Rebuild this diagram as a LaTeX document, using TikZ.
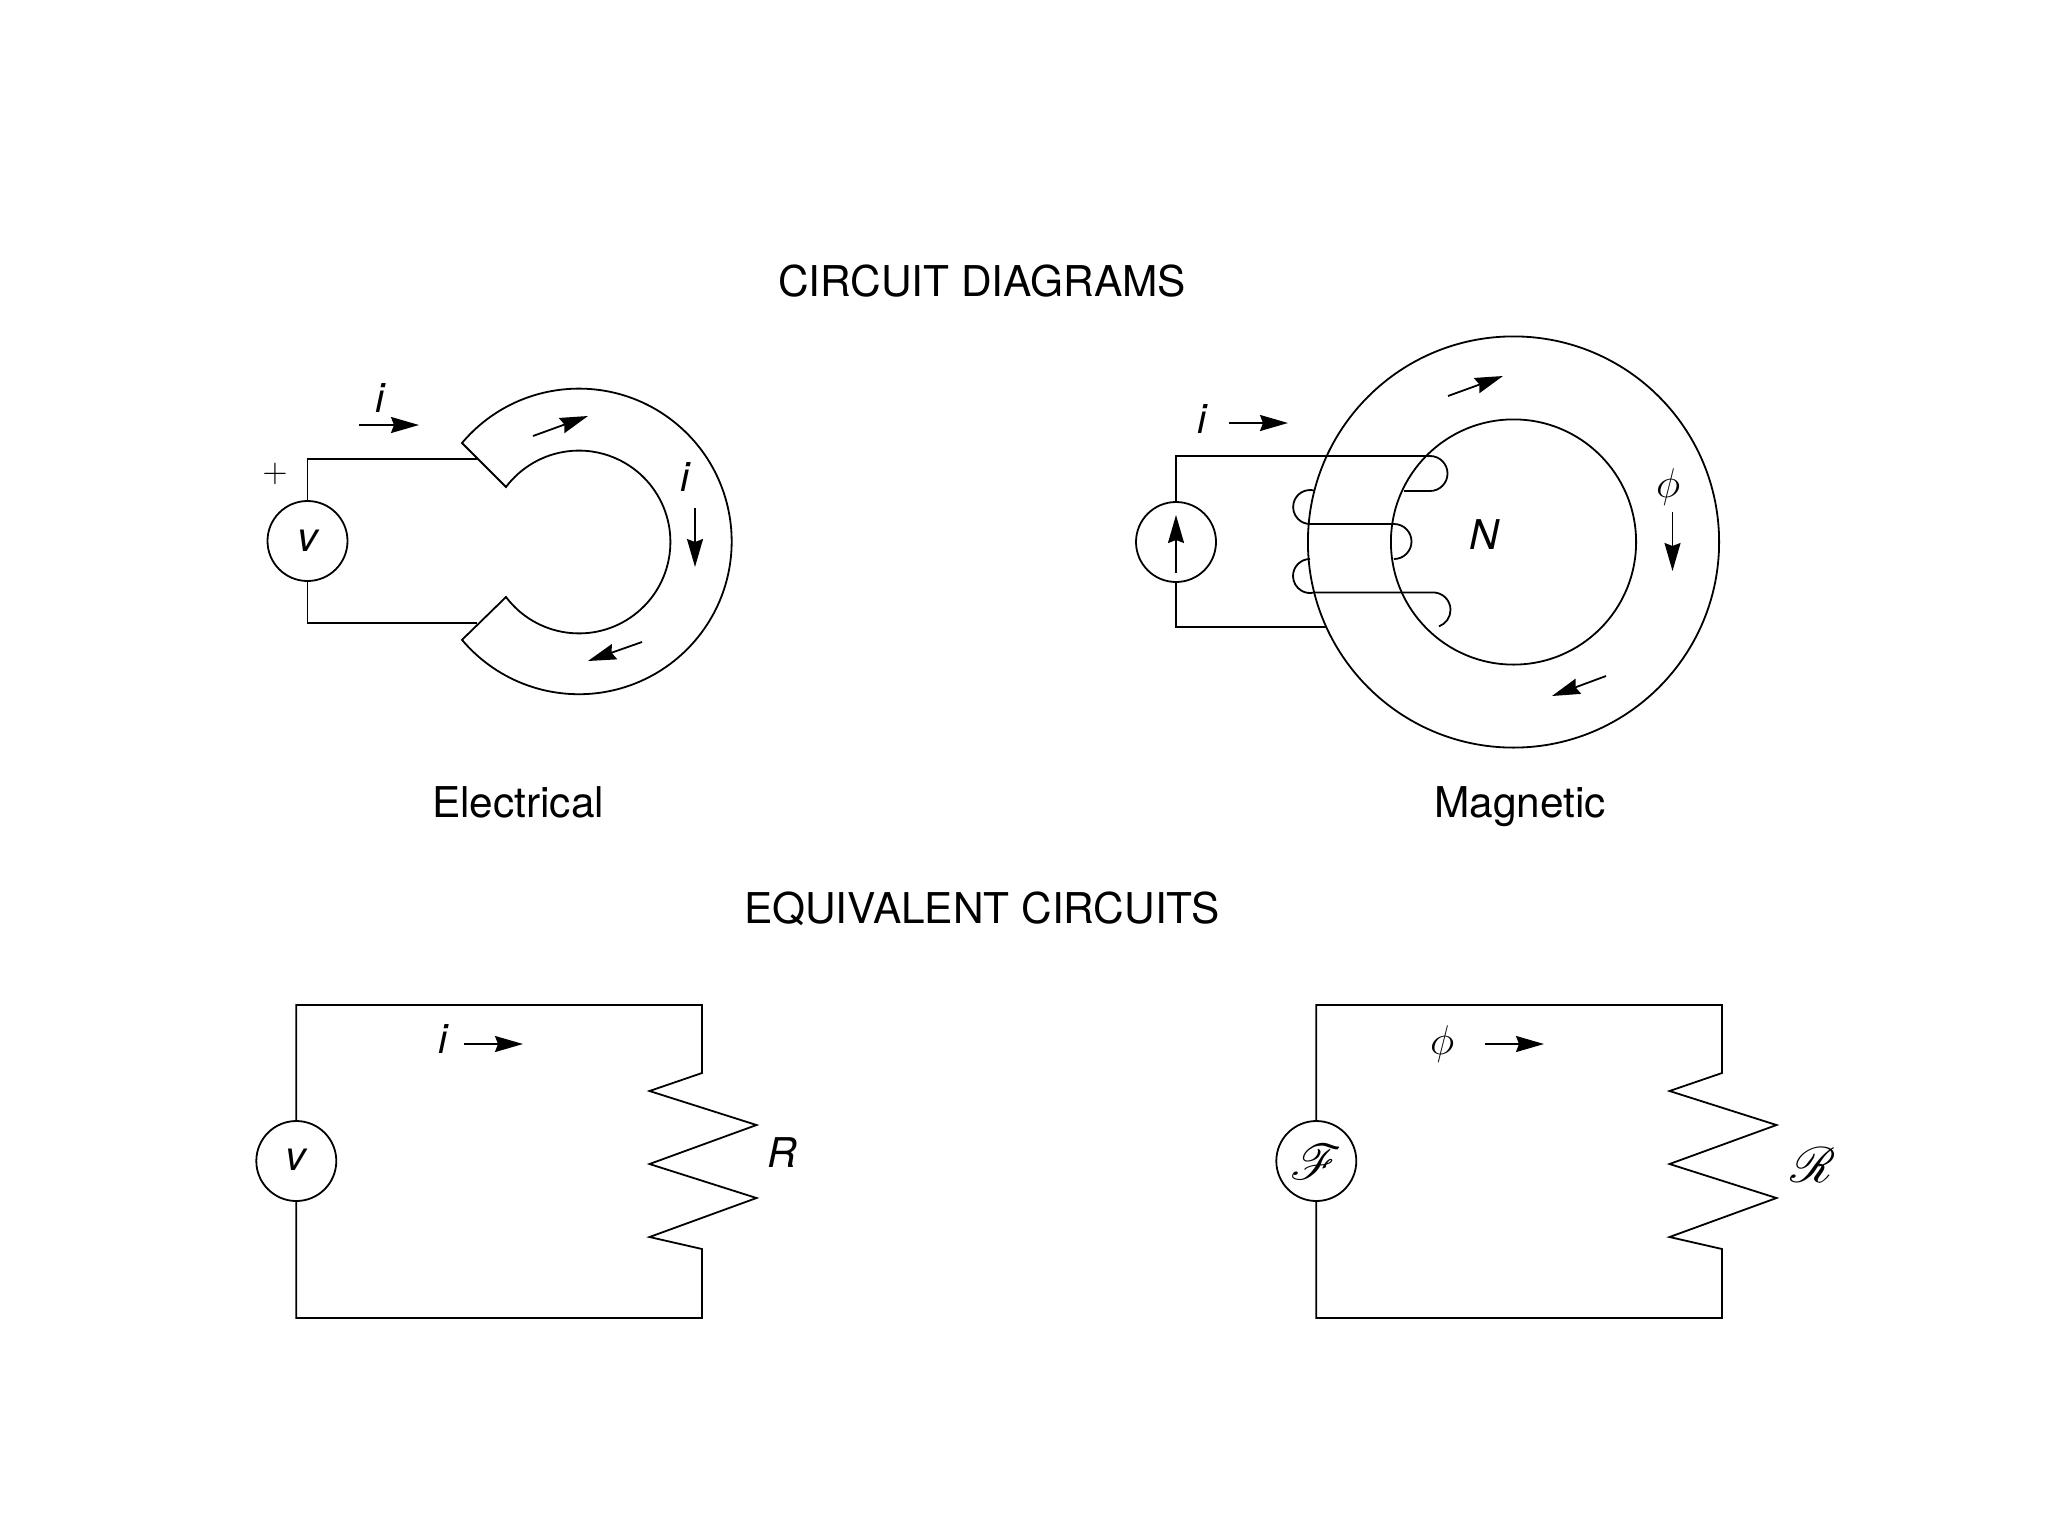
\documentclass[tikz,border=0pt]{standalone}
\usepackage{fontspec}
\usepackage{mathrsfs}
\setmainfont{TeX Gyre Heros}
\usetikzlibrary{arrows.meta}
\tikzset{
  wire/.style={line width=0.9pt},
  flow/.style={line width=0.9pt,-{Stealth[length=14pt,width=8pt,inset=1.5pt]}},
  source/.style={draw,circle,line width=0.9pt,minimum size=40pt,inner sep=0pt,outer sep=0pt},
  caption/.style={font=\fontsize{21.2}{25}\selectfont,anchor=base},
  symbol/.style={font=\fontsize{20.5}{24}\selectfont\itshape,inner sep=0pt},
  greek/.style={font=\fontsize{21}{24}\selectfont,inner sep=0pt},
  script/.style={font=\fontsize{25}{28}\selectfont,inner sep=0pt},
}
\begin{document}
\begin{tikzpicture}[x=0.5pt,y=-0.5pt]
  \useasboundingbox (0,0) rectangle (2048,1536);
  % headings
  \node[caption] (titletop) at (982,296) {CIRCUIT DIAGRAMS};
  \node[caption] (titleelec) at (518,817) {Electrical};
  \node[caption] (titlemag) at (1520,817) {Magnetic};
  \node[caption] (titlebot) at (982,923) {EQUIVALENT CIRCUITS};

  % electrical core
  \node[source,symbol] (vone) at (307.5,541) {v};
  \coordinate (wa) at (477,459);
  \coordinate (wb) at (477,623);
  \draw[wire] (vone.north) |- (wa);
  \draw[wire] (vone.south) |- (wb);
  \draw[wire] (462,443) arc[start angle=139.9,end angle=-139.9,radius=76.4pt]
    -- (506,597) arc[start angle=-143,end angle=143,radius=45.7pt] -- cycle;
  \node[font=\fontsize{18}{20}\selectfont,inner sep=0pt] (plus) at (275,474) {$+$};
  \node[symbol] (ione) at (380,398) {i};
  \node[symbol] (itwo) at (685,477) {i};
  \coordinate (a1) at (359,425);
  \coordinate (a2) at (419,425);
  \coordinate (b1) at (533,436);
  \coordinate (b2) at (588,416);
  \coordinate (c1) at (695,508);
  \coordinate (c2) at (695,567);
  \coordinate (d1) at (642,642);
  \coordinate (d2) at (588,661);
  \draw[flow] (a1) -- (a2);
  \draw[flow] (b1) -- (b2);
  \draw[flow] (c1) -- (c2);
  \draw[flow] (d1) -- (d2);

  % magnetic core
  \node[source] (itsrc) at (1176,542) {};
  \coordinate (ta) at (1430,456);
  \coordinate (tb) at (1327,627);
  \draw[wire] (itsrc.north) |- (ta);
  \draw[wire] (itsrc.south) |- (tb);
  \draw[wire] (1513.5,542) circle[radius=102.8pt];
  \draw[wire] (1513.5,542) circle[radius=61.3pt];
  \draw[wire] (ta) arc[start angle=90,end angle=-90,radius=8.75pt] -- (1404,491);
  \draw[wire] (1314.5,490.6) arc[start angle=75,end angle=270,radius=8.5pt]
    -- (1394,524) arc[start angle=90,end angle=-90,radius=8.75pt];
  \draw[wire] (1310,559) arc[start angle=90,end angle=285,radius=8.5pt]
    -- (1433,592.4) arc[start angle=90,end angle=-70,radius=8.75pt];
  \node[symbol] (ithree) at (1202,419) {i};
  \node[greek] (phione) at (1668,487) {$\phi$};
  \node[symbol] (turns) at (1484,535) {N};
  \coordinate (e1) at (1176,573);
  \coordinate (e2) at (1176,515);
  \coordinate (f1) at (1229,423);
  \coordinate (f2) at (1288,423);
  \coordinate (g1) at (1448,396);
  \coordinate (g2) at (1503,376);
  \coordinate (h1) at (1672.5,512);
  \coordinate (h2) at (1672.5,571);
  \coordinate (j1) at (1606,676);
  \coordinate (j2) at (1552,696);
  \draw[flow] (e1) -- (e2);
  \draw[flow] (f1) -- (f2);
  \draw[flow] (g1) -- (g2);
  \draw[flow] (h1) -- (h2);
  \draw[flow] (j1) -- (j2);

  % electrical equivalent
  \node[source] (vtwo) at (296.3,1161) {};
  \node[symbol] (vtext) at (295.5,1160) {v};
  \coordinate (k1) at (702,1073);
  \coordinate (k2) at (702,1249);
  \draw[wire] (vtwo.north) |- (702,1005) -- (k1)
    -- (649.5,1091) -- (756.5,1125) -- (649.5,1164) -- (756.5,1198) -- (649.5,1237)
    -- (k2) -- (702,1318) -| (vtwo.south);
  \node[symbol] (ifour) at (443,1039) {i};
  \node[symbol] (resist) at (782,1153) {R};
  \coordinate (m1) at (464,1044);
  \coordinate (m2) at (523,1044);
  \draw[flow] (m1) -- (m2);

  % magnetic equivalent
  \node[source] (mmf) at (1316.3,1161) {};
  \node[script] (mmftext) at (1316,1162) {$\mathscr{F}$};
  \coordinate (n1) at (1722,1073);
  \coordinate (n2) at (1722,1249);
  \draw[wire] (mmf.north) |- (1722,1005) -- (n1)
    -- (1669.5,1091) -- (1776.5,1125) -- (1669.5,1164) -- (1776.5,1198) -- (1669.5,1237)
    -- (n2) -- (1722,1318) -| (mmf.south);
  \node[greek] (phitwo) at (1442,1044) {$\phi$};
  \node[script] (reluct) at (1813,1165) {$\mathscr{R}$};
  \coordinate (p1) at (1485,1044);
  \coordinate (p2) at (1544,1044);
  \draw[flow] (p1) -- (p2);
\end{tikzpicture}
\end{document}
